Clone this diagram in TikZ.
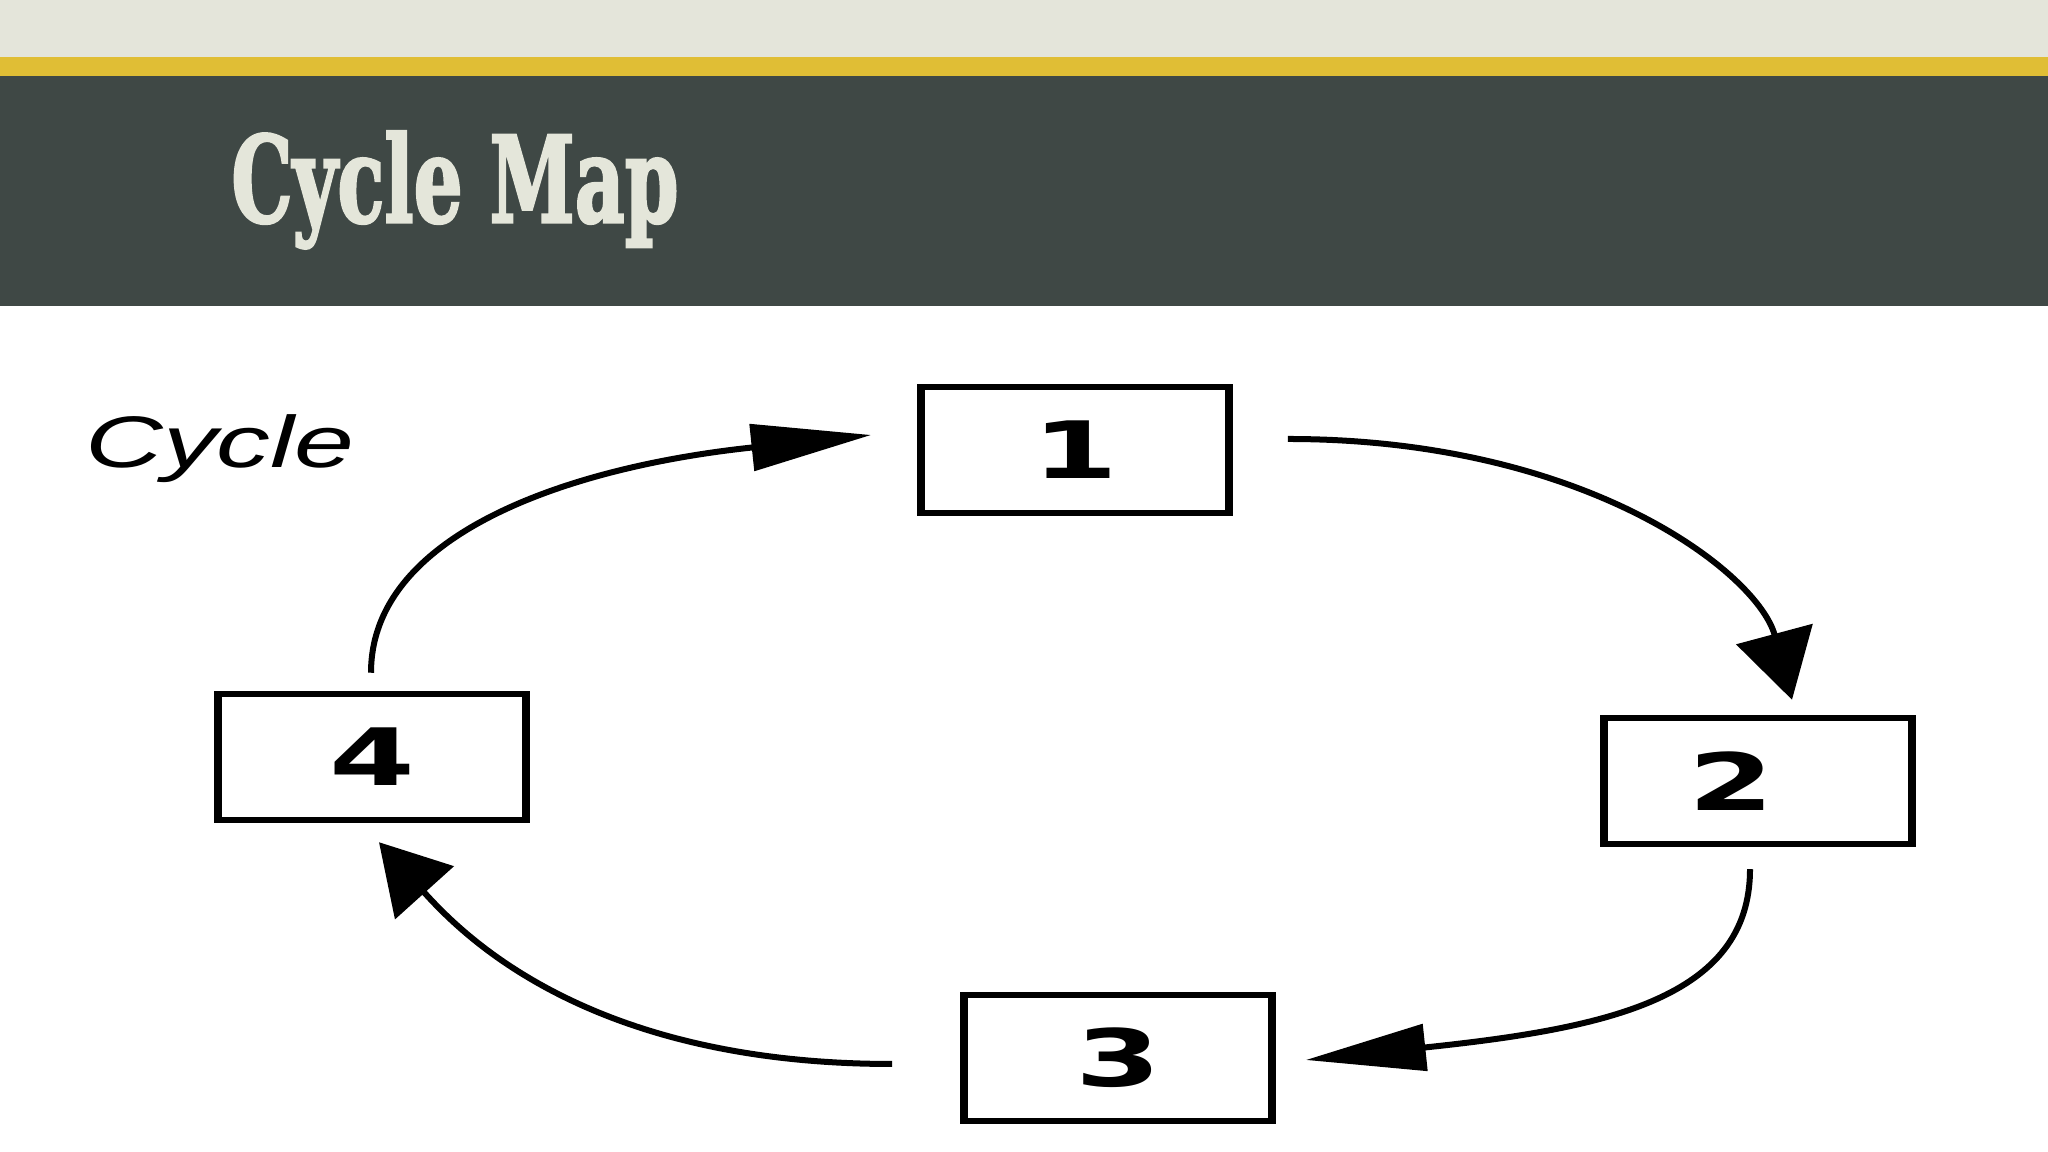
\documentclass[tikz,border=0pt]{standalone}
\usepackage{fontspec}
\usepackage{graphicx}
\setmainfont{DejaVu Serif}
\newfontfamily\titlefont{DejaVu Serif}[BoldFeatures = {FakeBold = 2.5}]
\newfontfamily\numfont{DejaVu Sans}
\newfontfamily\cyclefont{Liberation Sans}
\usetikzlibrary{positioning, arrows.meta}

\definecolor{topgrey}{HTML}{E4E5DA}
\definecolor{barYellow}{HTML}{E0BE35}
\definecolor{board}{HTML}{3F4845}
\definecolor{chalk}{HTML}{E4E6DA}

\begin{document}
\begin{tikzpicture}[x=0.01cm, y=0.01cm,
        box/.style = {rectangle, fill = black, minimum width = 3.16cm, minimum height = 1.31cm,
                font = \numfont\bfseries\fontsize{22.5}{26}\selectfont,
                path picture = {\fill[white] ([shift = {(0.085cm, 0.055cm)}]path picture bounding box.south west) rectangle ([shift = {(-0.08cm, -0.055cm)}]path picture bounding box.north east);}},
        cyc/.style = {line width = 0.06cm},
        hhead/.style = {-{Triangle[length = 1.2cm, width = 0.46cm]}},
        vhead/.style = {-{Triangle[length = 0.68cm, width = 0.78cm]}}]
        \useasboundingbox (0, 0) rectangle (2048, 1152);
        % header bands
        \fill[white] (0, 0) rectangle (2048, 1152);
        \fill[topgrey] (0, 1095) rectangle (2048, 1152);
        \fill[barYellow] (0, 1076) rectangle (2048, 1095);
        \fill[board] (0, 846) rectangle (2048, 1076);
        \node[inner sep = 0, text = chalk] (title) at (455, 962) {\resizebox*{4.47cm}{1.17cm}{\titlefont\bfseries Cycle Map}};

        \node[inner sep = 0] (cycle) at (220, 703) {\resizebox*{2.69cm}{0.68cm}{\cyclefont\itshape Cycle}};

        \node[box] (b1) at (1075, 702) {\scalebox{1.56}[1]{1}};
        \node[box] (b2) at (1758, 371) {\raisebox{-0.08cm}{\scalebox{1.56}[1]{2}}\hspace*{0.54cm}};
        \node[box] (b3) at (1118, 94) {\scalebox{1.56}[1]{3}};
        \node[box] (b4) at (372, 395) {\scalebox{1.56}[1]{4}};

        \draw ([shift = {(54, 11)}]b1.east) edge[cyc, vhead, out = 0, in = 105, out distance = 3cm, in distance = 1.3cm] ([shift = {(34, 15)}]b2.north);
        \draw ([shift = {(-8, -22)}]b2.south) edge[cyc, hhead, out = -90, in = 6, out distance = 1.3cm, in distance = 3cm] ([shift = {(29, -2)}]b3.east);
        \draw ([shift = {(-67, -6)}]b3.west) edge[cyc, vhead, out = 180, in = -48, out distance = 3cm, in distance = 1.3cm] ([shift = {(7, -19)}]b4.south);
        \draw ([shift = {(-1, 18)}]b4.north) edge[cyc, hhead, out = 90, in = 186, out distance = 1.4cm, in distance = 3cm] ([shift = {(-45, 15)}]b1.west);
      \end{tikzpicture}
\end{document}
